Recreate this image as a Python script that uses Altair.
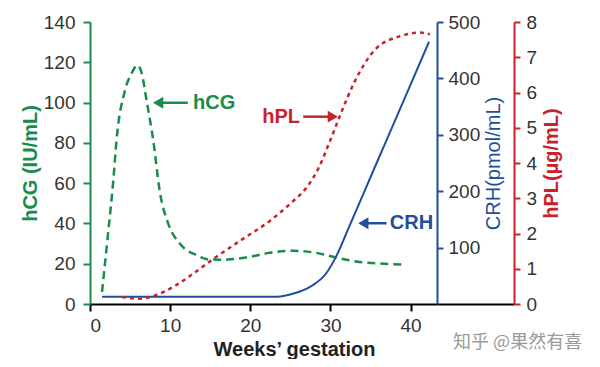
import altair as alt
import pandas as pd

# ---- data ----
hcg_weeks = [1.5, 2.2, 2.9, 3.3, 4.36, 5.2, 5.9, 6.45, 7.06, 7.9, 8.7, 9.75, 11.2, 13.3, 14.9, 16.6, 19.5, 22.4, 25.3, 28.2, 30.7, 33.6, 39.4]
hcg_values = [6, 33, 61, 81, 106, 114.6, 118.5, 114.6, 101, 81, 56, 40, 30, 24.2, 22.1, 22, 23.1, 25.4, 26.4, 25.4, 23.1, 20.9, 19.6]

crh_weeks = [1.5, 23.3, 25.5, 27.4, 29.5, 30.7, 32.3, 35.4, 39.9, 42.3]
crh_values = [13, 13, 19, 30, 55, 84, 136, 238, 386, 465]

hpl_weeks = [4.0, 6.2, 8.3, 10.5, 12.5, 15.4, 19.1, 22.4, 25.0, 27.0, 28.5, 29.9, 31.2, 33.0, 35.5, 38.7, 41.2, 42.4]
hpl_values = [0.2, 0.15, 0.26, 0.5, 0.8, 1.28, 1.85, 2.35, 2.85, 3.3, 3.85, 4.6, 5.35, 6.3, 7.2, 7.6, 7.7, 7.65]

x_ticks = [0, 10, 20, 30, 40]
hcg_ticks = [0, 20, 40, 60, 80, 100, 120, 140]
crh_ticks = [100, 200, 300, 400, 500]
hpl_ticks = [0, 1, 2, 3, 4, 5, 6, 7, 8]

# annotations (weeks, hCG-axis units)
ann_labels = ["hCG", "hPL", "CRH"]
ann_text_x = [12.85, 26.2, 37.4]
ann_y = [99.9, 93.0, 40.1]
ann_align = ["left", "right", "left"]
arrow_tail = [12.2, 26.6, 37.0]
arrow_head = [8.5, 30.3, 34.1]
arrow_shape = ["triangle-left", "triangle-right", "triangle-left"]

watermark = ["知乎 @果然有喜"]
watermark_x = [45.3]
watermark_y = [-19.4]

GREEN = "#178c4b"
BLUE = "#1f4e9f"
RED = "#c8232b"
LABEL = "#333333"
FONT = "Liberation Sans"

ann_colors = [GREEN, RED, BLUE]

xscale = alt.Scale(domain=[0, 52.9], nice=False, zero=False)
xaxis = alt.Axis(values=x_ticks, title="Weeks’ gestation", grid=False,
                 domainColor="black", domainWidth=2, tickColor="black", tickWidth=2,
                 tickSize=7, labelFontSize=19, labelColor=LABEL, labelFont=FONT,
                 labelPadding=5, titleFont=FONT, titleFontSize=20, titleFontWeight="bold",
                 titleColor="#222222", titlePadding=4, titleX=204, titleAlign="center")
X = alt.X("w:Q", scale=xscale, axis=xaxis)

hcg_df = pd.DataFrame({"w": hcg_weeks, "v": hcg_values})
crh_df = pd.DataFrame({"w": crh_weeks, "v": crh_values})
hpl_df = pd.DataFrame({"w": hpl_weeks, "v": hpl_values})

hcg = alt.Chart(hcg_df).mark_line(color=GREEN, strokeWidth=2.5, strokeDash=[8, 5],
                                  interpolate="monotone").encode(
    x=X,
    y=alt.Y("v:Q", scale=alt.Scale(domain=[0, 140], nice=False),
            axis=alt.Axis(orient="left", values=hcg_ticks, title="hCG (IU/mL)", grid=False,
                          domainColor=GREEN, domainWidth=2, tickColor=GREEN, tickWidth=2,
                          tickSize=7, labelFontSize=19, labelColor=LABEL, labelFont=FONT,
                          labelPadding=8, titleFont=FONT, titleFontSize=20,
                          titleFontWeight="bold", titleColor=GREEN, titlePadding=3)),
)

crh = alt.Chart(crh_df).mark_line(color=BLUE, strokeWidth=2, interpolate="monotone").encode(
    x=X,
    y=alt.Y("v:Q", scale=alt.Scale(domain=[0, 500], nice=False),
            axis=alt.Axis(orient="right", offset=-77, values=crh_ticks, title="CRH(pmol/mL)",
                          grid=False, domainColor=BLUE, domainWidth=2, tickColor=BLUE,
                          tickWidth=2, tickSize=6, labelFontSize=19, labelColor=LABEL,
                          labelFont=FONT, labelPadding=5, titleFont=FONT, titleFontSize=20,
                          titleFontWeight="normal", titleColor=BLUE, titlePadding=4,
                          titleAngle=270, titleBaseline="top")),
)

hpl = alt.Chart(hpl_df).mark_line(color=RED, strokeWidth=2.5, strokeDash=[4, 4],
                                  interpolate="monotone").encode(
    x=X,
    y=alt.Y("v:Q", scale=alt.Scale(domain=[0, 8], nice=False),
            axis=alt.Axis(orient="right", values=hpl_ticks, title="hPL(µg/mL)", grid=False,
                          domainColor=RED, domainWidth=2, tickColor=RED, tickWidth=2,
                          tickSize=6, labelFontSize=19, labelColor=LABEL, labelFont=FONT,
                          labelPadding=6, titleFont=FONT, titleFontSize=20,
                          titleFontWeight="bold", titleColor=RED, titlePadding=5,
                          titleAngle=270, titleBaseline="top")),
)

AY = alt.Scale(domain=[0, 140], nice=False)
layers = [hcg, crh, hpl]
for i in range(len(ann_labels)):
    d = pd.DataFrame({"w": [arrow_tail[i]], "w2": [arrow_head[i]], "v": [ann_y[i]],
                      "tx": [ann_text_x[i]], "t": [ann_labels[i]]})
    rule = alt.Chart(d).mark_rule(color=ann_colors[i], strokeWidth=2.5).encode(
        x=X, x2="w2:Q", y=alt.Y("v:Q", scale=AY, axis=None))
    head = alt.Chart(d).mark_point(shape=arrow_shape[i], filled=True, opacity=1,
                                   color=ann_colors[i], size=140).encode(
        x=alt.X("w2:Q", scale=xscale, axis=xaxis), y=alt.Y("v:Q", scale=AY, axis=None))
    txt = alt.Chart(d).mark_text(align=ann_align[i], baseline="middle", font=FONT,
                                 fontSize=20, fontWeight="bold", color=ann_colors[i]).encode(
        x=alt.X("tx:Q", scale=xscale, axis=xaxis), y=alt.Y("v:Q", scale=AY, axis=None),
        text="t:N")
    layers += [rule, head, txt]

wm_df = pd.DataFrame({"w": watermark_x, "v": watermark_y, "t": watermark})
wm = alt.Chart(wm_df).mark_text(align="left", baseline="middle", font="Noto Sans CJK SC",
                                fontSize=18, color="#9a9a9a").encode(
    x=X, y=alt.Y("v:Q", scale=AY, axis=None), text="t:N")
layers.append(wm)

chart = alt.layer(*layers).resolve_scale(y="independent").properties(
    width=424, height=282,
    autosize=alt.AutoSizeParams(type="none"),
    padding={"left": 82, "top": 14, "right": 78, "bottom": 55},
    background="white",
).configure_view(stroke=None)

chart.save("out.html", embed_options={"renderer": "svg", "actions": False})
